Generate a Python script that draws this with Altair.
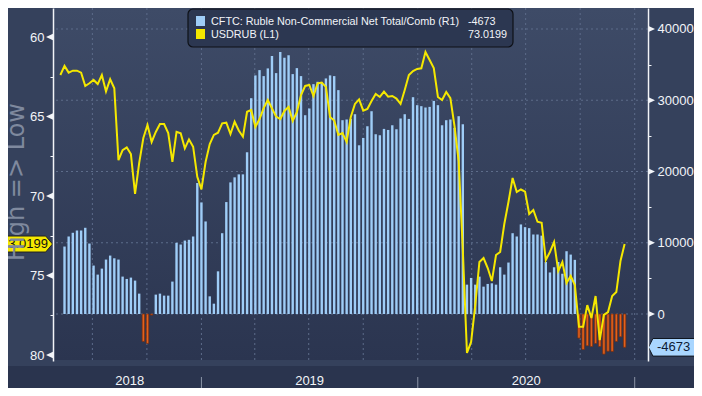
import altair as alt
import pandas as pd

# ---------------- data ----------------
first_week = "2018-05-08"   # weekly (Tuesday) observations
usdrub = [
    62.39, 61.82, 62.24, 62.12, 62.12, 62.24, 63.08, 62.91, 62.70, 62.96,
    62.39, 63.42, 62.66, 63.23, 67.74, 67.11, 66.94, 67.36, 69.87, 67.92,
    66.35, 65.53, 66.60, 65.97, 65.47, 65.47, 66.04, 67.86, 65.97, 66.06,
    67.00, 66.44, 66.90, 68.79, 69.58, 67.86, 66.73, 66.16, 66.02, 65.43,
    65.39, 66.10, 65.33, 65.88, 66.27, 64.70, 64.59, 65.66, 65.16, 64.47,
    63.96, 64.49, 65.00, 65.16, 64.65, 64.40, 65.28, 64.72, 63.65, 63.08,
    63.02, 63.71, 62.92, 62.87, 63.14, 65.03, 65.25, 66.16, 66.04, 66.60,
    65.03, 64.21, 63.92, 64.63, 64.53, 64.03, 63.58, 63.77, 63.44, 63.75,
    63.71, 63.87, 64.21, 63.33, 62.39, 62.14, 62.01, 61.97, 60.94, 61.45,
    61.95, 63.77, 63.96, 63.46, 63.84, 65.60, 67.80, 73.40, 79.87, 79.18,
    76.86, 74.15, 73.90, 74.53, 75.35, 73.71, 73.52, 71.76, 70.38, 68.87,
    69.75, 69.59, 69.72, 71.13, 70.88, 71.62, 71.68, 74.03, 73.52, 72.89,
    74.72, 74.15, 75.47, 75.03, 75.60, 78.22, 78.22, 76.86, 77.67, 76.29,
    79.06, 77.48, 77.30, 76.29, 76.04, 74.09, 73.0199,
]
# CFTC net positions start one week after the first USDRUB point
cftc_net = [
    9470, 10880, 11400, 11720, 11720, 12100, 9890, 6800, 5530, 6370,
    7640, 8200, 7820, 7640, 5250, 4920, 5110, 4690, 2860, -3850,
    -4130, -150, 2720, 2860, 2580, 2580, 4550, 9990, 9750, 10310,
    10410, 10880, 18380, 15660, 12990, 2480, 1450, 5990, 11340, 15710,
    18470, 19180, 19600, 19600, 22700, 30290, 33490, 34230, 33390, 34470,
    36200, 33810, 36770, 35960, 36300, 33670, 34510, 33390, 27900, 28840,
    32260, 32590, 32500, 33060, 33490, 33390, 31420, 27200, 27300, 27380,
    28040, 23680, 24710, 26350, 28460, 25230, 25090, 25980, 25830, 26490,
    25930, 27440, 28040, 27380, 30430, 29310, 29170, 28980, 29070, 29910,
    29310, 26490, 27200, 27300, 26120, 27760, 26630, 4120, 5060, 4120,
    5250, 3840, 4220, 4310, 4120, 6560, 5530, 7220, 11340, 10880,
    12570, 12190, 12050, 11160, 11160, 11000, 7300, 5830, 6560, 7300,
    5650, 8810, 8340, 7600, -3380, -4980, -4460, -4560, -4140, -4560,
    -5630, -5230, -5260, -3850, -3190, -4673,
]
left_ticks = [60, 62.5, 65, 67.5, 70, 72.5, 75, 77.5, 80]
left_major = [60, 65, 70, 75, 80]
right_ticks = [0, 5000, 10000, 15000, 20000, 25000, 30000, 35000, 40000]
right_major = [0, 10000, 20000, 30000, 40000]
years = ["2018", "2019", "2020"]
year_bounds = ["2019-01-01", "2020-01-01", "2021-01-01"]
legend_names = ["CFTC: Ruble Non-Commercial Net Total/Comb (R1)", "USDRUB (L1)"]
legend_values = ["-4673", "73.0199"]
left_title = "High => Low"

# ---------------- styling ----------------
W, H = 595, 353
PAD = {"left": 45, "top": 0, "right": 46, "bottom": 27}
BG_TOP, BG_BOT = "#3e4b67", "#2b3550"
BG_OUT = "#35415c"
BLUE, ORANGE, YELLOW = "#9fcdf7", "#e2611d", "#f5e800"
GRID = "#5d6c8a"
WHITE = "#f2f4f8"
FONT = "Liberation Sans"

line_dates = pd.date_range(first_week, periods=len(usdrub), freq="7D")
bar_dates = line_dates[len(usdrub) - len(cftc_net):]

x_start = pd.Timestamp("2018-05-04")
x_end = pd.Timestamp("2021-01-15")


def dt(ts):
    return alt.DateTime(year=ts.year, month=ts.month, date=ts.day)


def xscale():
    return alt.Scale(domain=[dt(x_start), dt(x_end)], nice=False)


def yr():   # right axis: CFTC contracts
    return alt.Scale(domain=[-6596, 42947], nice=False, zero=False)


def yl():   # left axis: USDRUB, inverted
    return alt.Scale(domain=[58.176, 80.377], reverse=True, nice=False, zero=False)


month_ticks = [dt(t) for t in pd.date_range("2018-06-01", "2021-01-01", freq="MS")]
quarter_lines = pd.date_range("2018-07-01", "2021-01-01", freq="QS")

bounds = [pd.Timestamp(b) for b in year_bounds]
starts = [max(x_start, pd.Timestamp(f"{y}-01-01")) for y in years]
year_mid = [s + (e - s) / 2 for s, e in zip(starts, bounds)]

one = pd.DataFrame({"k": [0]})
layers = []

# background of the plot area and of the date band
layers.append(alt.Chart(one).mark_rect(
    color=alt.LinearGradient(
        gradient="linear",
        stops=[alt.GradientStop(color=BG_TOP, offset=0), alt.GradientStop(color=BG_BOT, offset=1)],
        x1=0, x2=0, y1=0, y2=1,
    )
).encode(x=alt.value(1), x2=alt.value(W - 1), y=alt.value(0), y2=alt.value(H - 1)))
layers.append(alt.Chart(one).mark_rect(color="#2a344e").encode(
    x=alt.value(-PAD["left"]), x2=alt.value(W + PAD["right"]),
    y=alt.value(H + 5), y2=alt.value(H + PAD["bottom"])))

# dashed grid
layers.append(alt.Chart(pd.DataFrame({"v": right_major})).mark_rule(
    color=GRID, strokeDash=[2, 3], strokeWidth=1
).encode(y=alt.Y("v:Q", scale=yr(), axis=None)))
layers.append(alt.Chart(pd.DataFrame({"d": quarter_lines})).mark_rule(
    color=GRID, strokeDash=[2, 3], strokeWidth=1
).encode(x=alt.X("d:T", scale=xscale(), axis=None)))

# CFTC bars (right axis)
bars_df = pd.DataFrame({"date": bar_dates, "net": cftc_net})
layers.append(alt.Chart(bars_df).mark_bar(size=2.4, strokeWidth=0.7).encode(
    x=alt.X("date:T", scale=xscale(), title=None,
            axis=alt.Axis(values=month_ticks, labels=False, ticks=True, tickSize=3,
                          tickColor=WHITE, domainColor=WHITE, domainWidth=1.5,
                          grid=False, zindex=1)),
    y=alt.Y("net:Q", scale=yr(), title=None,
            axis=alt.Axis(orient="right", values=right_ticks, format="d",
                          labelExpr="datum.value % 10000 == 0 ? datum.label : ''",
                          tickSize=3, tickColor=WHITE, domainColor=WHITE, domainWidth=1.5,
                          labelColor=WHITE, labelFont=FONT, labelFontSize=13,
                          labelPadding=6, grid=False, zindex=1)),
    color=alt.condition(alt.datum.net >= 0, alt.value(BLUE), alt.value(ORANGE)),
    stroke=alt.condition(alt.datum.net >= 0, alt.value("transparent"), alt.value("#7a2c0c")),
))

# USDRUB line (left axis)
line_df = pd.DataFrame({"date": line_dates, "rub": usdrub})
layers.append(alt.Chart(line_df).mark_line(color=YELLOW, strokeWidth=2).encode(
    x=alt.X("date:T", scale=xscale(), axis=None),
    y=alt.Y("rub:Q", scale=yl(), title=None,
            axis=alt.Axis(orient="left", values=left_ticks,
                          labelExpr="datum.value % 5 == 0 ? datum.label : ''",
                          tickSize=3, tickColor=WHITE, domainColor=WHITE, domainWidth=1.5,
                          labelColor=WHITE, labelFont=FONT, labelFontSize=13,
                          labelPadding=6, grid=False, zindex=1)),
))

# year band: separators and labels
layers.append(alt.Chart(pd.DataFrame({"d": bounds})).mark_rule(
    color="#8a93a6", strokeWidth=1
).encode(x=alt.X("d:T", scale=xscale(), axis=None), y=alt.value(H + 16), y2=alt.value(H + 27)))
layers.append(alt.Chart(pd.DataFrame({"d": year_mid, "t": years})).mark_text(
    font=FONT, fontSize=13, color=WHITE, baseline="middle", align="center"
).encode(x=alt.X("d:T", scale=xscale(), axis=None), y=alt.value(H + 20), text="t:N"))

# triangle tick markers
layers.append(alt.Chart(pd.DataFrame({"v": right_major})).mark_point(
    shape="M0,-0.8 L1.75,0 L0,0.8 Z", size=64, filled=True, color=WHITE, opacity=1
).encode(x=alt.value(W), y=alt.Y("v:Q", scale=yr(), axis=None)))
layers.append(alt.Chart(pd.DataFrame({"v": left_major})).mark_point(
    shape="M0,-0.8 L-1.75,0 L0,0.8 Z", size=64, filled=True, color=WHITE, opacity=1
).encode(x=alt.value(0), y=alt.Y("v:Q", scale=yl(), axis=None)))

# last-value tags on both axes
last_r = pd.DataFrame({"v": [cftc_net[-1]], "t": [legend_values[0]]})
layers.append(alt.Chart(last_r).mark_point(
    shape="M0,0 L0.55,-1.1 L7,-1.1 L7,1.1 L0.55,1.1 Z", size=256, filled=True,
    color="#a9d6ff", stroke="#10151f", strokeWidth=1, opacity=1
).encode(x=alt.value(W + 0.5), y=alt.Y("v:Q", scale=yr(), axis=None)))
layers.append(alt.Chart(last_r).mark_text(
    font=FONT, fontSize=13, color="#0d1b35", align="left", baseline="middle"
).encode(x=alt.value(W + 9), y=alt.Y("v:Q", scale=yr(), axis=None), text="t:N"))

last_l = pd.DataFrame({"v": [usdrub[-1]], "t": [legend_values[1]]})
layers.append(alt.Chart(last_l).mark_point(
    shape="M0,0 L-0.85,-1 L-6.7,-1 L-6.7,1 L-0.85,1 Z", size=256, filled=True,
    color=YELLOW, stroke="#222222", strokeWidth=1, opacity=1
).encode(x=alt.value(-0.5), y=alt.Y("v:Q", scale=yl(), axis=None)))
layers.append(alt.Chart(last_l).mark_text(
    font=FONT, fontSize=13, color="#111111", align="left", baseline="middle"
).encode(x=alt.value(-52), y=alt.Y("v:Q", scale=yl(), axis=None), text="t:N"))

# left axis title
layers.append(alt.Chart(one).mark_text(
    font="DejaVu Sans", fontSize=24, color="#7f899e", angle=270,
    align="center", baseline="alphabetic"
).encode(x=alt.value(-29), y=alt.value(174), text=alt.value(left_title)))

# legend box
layers.append(alt.Chart(one).mark_rect(
    fill="#2c3751", stroke="#0e1117", strokeWidth=1.2, cornerRadius=5
).encode(x=alt.value(135), x2=alt.value(460), y=alt.value(1), y2=alt.value(39)))
for k, (name, val, col) in enumerate(zip(legend_names, legend_values, [BLUE, YELLOW])):
    top = 8 + 13 * k
    df_k = pd.DataFrame({"n": [name], "v": [val]})
    layers.append(alt.Chart(df_k).mark_rect(color=col).encode(
        x=alt.value(143), x2=alt.value(152), y=alt.value(top), y2=alt.value(top + 10)))
    layers.append(alt.Chart(df_k).mark_text(
        font=FONT, fontSize=10.8, color=WHITE, align="left", baseline="middle"
    ).encode(x=alt.value(158), y=alt.value(top + 5.5), text="n:N"))
    layers.append(alt.Chart(df_k).mark_text(
        font=FONT, fontSize=10.8, color=WHITE, align="left", baseline="middle"
    ).encode(x=alt.value(415), y=alt.value(top + 5.5), text="v:N"))

chart = alt.layer(*layers).resolve_scale(y="independent").properties(
    width=W, height=H, padding=PAD,
    autosize=alt.AutoSizeParams(type="none"),
    background=BG_OUT,
).configure_view(strokeWidth=0)

chart.save("out.html", embed_options={"renderer": "svg", "actions": False})
